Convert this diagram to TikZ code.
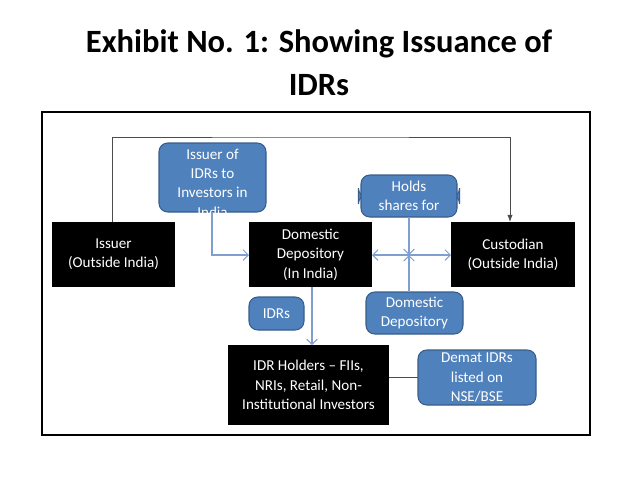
\documentclass[tikz,border=0pt]{standalone}
\usepackage{fontspec}
\setmainfont{Carlito}
\usetikzlibrary{arrows.meta}
\definecolor{bfill}{HTML}{4F81BD}
\definecolor{bdraw}{HTML}{385D8A}
\definecolor{bline}{HTML}{7F9FD0}
\tikzset{
  blk/.style={fill=black,text=white,inner sep=0pt,align=center,font=\fontsize{8.6}{11}\selectfont},
  blu/.style={fill=bfill,draw=bdraw,line width=0.6pt,rounded corners=5pt,text=white,inner sep=0pt,align=center,font=\fontsize{8.6}{11}\selectfont},
  conb/.style={draw=bline,line width=0.6pt},
  tipb/.style={-{Straight Barb[length=3pt,width=6pt]}},
  cong/.style={draw=black!70,line width=0.5pt}
}
\begin{document}
\begin{tikzpicture}[x=0.02cm,y=-0.02cm]
\useasboundingbox (0,0) rectangle (638,478);
\node[font=\fontsize{18.5}{24.5}\selectfont\bfseries,align=center] (title) at (319,63) {Exhibit No. 1: Showing Issuance of\\IDRs};
\draw[line width=0.9pt] (42,112) rectangle (590,435);
\node[blk,minimum width=123\pgflinewidth] (iss) at (113.5,254.5) {};
\path[fill=black] (52,222) rectangle (175,287);
\node[blk] (issuer) at (113.5,254.5) {Issuer\\(Outside India)};
\path[fill=black] (249,222) rectangle (372,287);
\node[blk] (dd) at (310.5,254.5) {Domestic\\Depository\\(In India)};
\path[fill=black] (451,222) rectangle (575,287);
\node[blk] (cust) at (513,254.5) {Custodian\\(Outside India)};
\path[fill=black] (228,345) rectangle (389,425);
\node[blk] (hold) at (308.5,385) {IDR Holders -- FIIs,\\NRIs, Retail, Non-\\Institutional Investors};
\coordinate (issT) at (112,222);
\coordinate (ddL) at (249,255);
\coordinate (ddR) at (372,255);
\coordinate (ddB) at (312,287);
\coordinate (custL) at (451,255);
\coordinate (custT) at (510,222);
\coordinate (holdT) at (312,345);
\coordinate (holdR) at (389,377);
\path[blu] (159,143) rectangle (266,212);
\node[text=white,align=center,font=\fontsize{8.6}{11}\selectfont] (issof) at (212.5,183) {Issuer of\\IDRs to\\Investors in\\India};
\node[blu,minimum width=96\pgflinewidth] (hs) at (409,196) {};
\path[blu] (361,175) rectangle (457,217);
\node[text=white,align=center,font=\fontsize{8.6}{11}\selectfont] at (409,196) {Holds\\shares for};
\path[blu] (366,292) rectangle (463,334);
\node[text=white,align=center,font=\fontsize{8.6}{11}\selectfont] at (414.5,313) {Domestic\\Depository};
\path[blu] (249,297) rectangle (304,330);
\node[text=white,font=\fontsize{8.6}{11}\selectfont] at (276.5,313.5) {IDRs};
\path[blu] (418,350) rectangle (536,405);
\node[text=white,align=center,font=\fontsize{8.6}{11}\selectfont] at (477,377.5) {Demat IDRs\\listed on\\NSE/BSE};
\coordinate (hsB) at (409,217);
\coordinate (ddbT) at (409,292);
\coordinate (mid) at (409,255);
\coordinate (issofB) at (212,212);
\coordinate (dematL) at (418,377);
% connectors
\draw[cong,-{Latex[length=4pt,width=3pt]}] (issT) |- (310,137) -| (custT);
\draw[conb,tipb] (issofB) |- (ddL);
\draw[conb,tipb] (ddB) -- (holdT);
\draw[conb,{Straight Barb[length=3pt,width=6pt]}-{Straight Barb[length=3pt,width=6pt]}] (ddR) -- (custL);
\draw[conb,tipb] (hsB) -- (mid);
\draw[conb,tipb] (ddbT) -- (mid);
\draw[cong] (holdR) -- (dematL);
\end{tikzpicture}
\end{document}
